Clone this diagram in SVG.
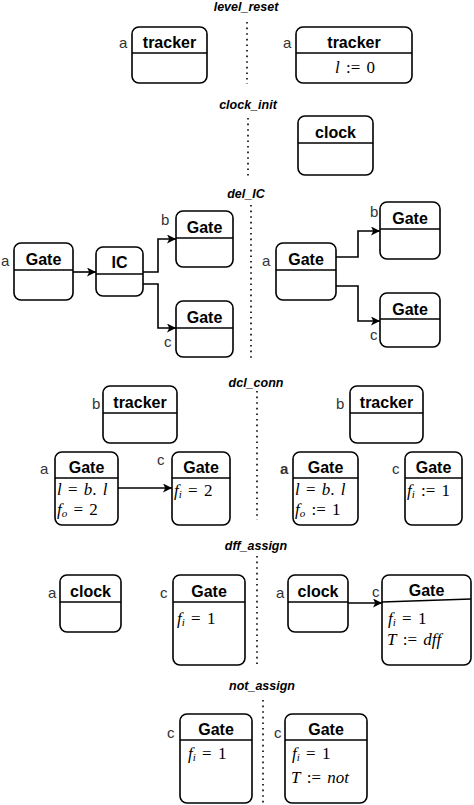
<svg xmlns="http://www.w3.org/2000/svg" width="474" height="805" viewBox="0 0 474 805">
<defs>
<style>
.box{fill:#fff;stroke:#000;stroke-width:1.6}
.div{stroke:#000;stroke-width:1.6;fill:none}
.hd{font-family:"Liberation Sans",Arial,sans-serif;font-weight:bold;font-size:16px;text-anchor:middle;fill:#000}
.lb{font-family:"Liberation Sans",Arial,sans-serif;font-size:15px;fill:#333}
.tt{font-family:"Liberation Sans",Arial,sans-serif;font-weight:bold;font-style:italic;font-size:12.5px;text-anchor:middle;fill:#000}
.m{font-family:"Liberation Serif","Times New Roman",serif;font-size:17px;fill:#000;word-spacing:2px}
.v{font-style:italic}
.s{font-style:italic;font-size:11px}
.dot{stroke:#000;stroke-width:1.6;stroke-dasharray:1.6 4;fill:none}
.con{stroke:#000;stroke-width:1.6;fill:none}
</style>
<marker id="ar" viewBox="0 0 10 10" refX="10" refY="5" markerWidth="9" markerHeight="9" markerUnits="userSpaceOnUse" orient="auto">
<path d="M0,0 L10,5 L0,10 L2.5,5 z" fill="#000"/>
</marker>
</defs>

<g id="titles">
<text class="tt" x="246" y="11">level_reset</text>
<text class="tt" x="248" y="109">clock_init</text>
<text class="tt" x="246" y="198">del_IC</text>
<text class="tt" x="256" y="387">dcl_conn</text>
<text class="tt" x="256" y="550">dff_assign</text>
<text class="tt" x="262" y="690">not_assign</text>
</g>

<g id="separators">
<line class="dot" x1="247" y1="22" x2="247" y2="84"/>
<line class="dot" x1="248" y1="118" x2="248" y2="176"/>
<line class="dot" x1="251" y1="205" x2="251" y2="360"/>
<line class="dot" x1="257" y1="391" x2="257" y2="520"/>
<line class="dot" x1="257" y1="556" x2="257" y2="666"/>
<line class="dot" x1="263" y1="700" x2="263" y2="805"/>
</g>

<g id="connectors">
<line class="con" x1="73" y1="272" x2="96" y2="272" marker-end="url(#ar)"/>
<path class="con" d="M143,272 H158 V239 H176" marker-end="url(#ar)"/>
<path class="con" d="M143,284 H158 V328 H176" marker-end="url(#ar)"/>
<path class="con" d="M336,257 H358 V231 H380" marker-end="url(#ar)"/>
<path class="con" d="M336,286 H358 V321 H380" marker-end="url(#ar)"/>
<line class="con" x1="118" y1="488" x2="172" y2="488" marker-end="url(#ar)"/>
<line class="con" x1="348" y1="603" x2="382" y2="603" marker-end="url(#ar)"/>
</g>

<g id="lr-left-tracker">
<rect class="box" x="132" y="27" width="75" height="56" rx="7"/>
<line class="div" x1="132" y1="53" x2="207" y2="53"/>
<text class="hd" x="169.5" y="48">tracker</text>
<text class="lb" x="119" y="48">a</text>
</g>
<g id="lr-right-tracker">
<rect class="box" x="296" y="27" width="116" height="56" rx="7"/>
<line class="div" x1="296" y1="53" x2="412" y2="53"/>
<text class="hd" x="354" y="48">tracker</text>
<text class="m" x="355" y="73" text-anchor="middle" font-size="19"><tspan class="v">l</tspan> := 0</text>
<text class="lb" x="283" y="48">a</text>
</g>

<g id="ci-clock">
<rect class="box" x="298" y="116" width="75" height="59" rx="7"/>
<line class="div" x1="298" y1="143" x2="373" y2="143"/>
<text class="hd" x="335.5" y="138">clock</text>
</g>

<g id="di-left-gate-a">
<rect class="box" x="14" y="243" width="59" height="57" rx="7"/>
<line class="div" x1="14" y1="270" x2="73" y2="270"/>
<text class="hd" x="43.5" y="265">Gate</text>
<text class="lb" x="1" y="266">a</text>
</g>
<g id="di-left-ic">
<rect class="box" x="96" y="247" width="47" height="49" rx="7"/>
<line class="div" x1="96" y1="274" x2="143" y2="274"/>
<text class="hd" x="119.5" y="268">IC</text>
</g>
<g id="di-left-gate-b">
<rect class="box" x="176" y="211" width="57" height="56" rx="7"/>
<line class="div" x1="176" y1="238" x2="233" y2="238"/>
<text class="hd" x="204.5" y="233">Gate</text>
<text class="lb" x="161" y="225">b</text>
</g>
<g id="di-left-gate-c">
<rect class="box" x="176" y="301" width="57" height="56" rx="7"/>
<line class="div" x1="176" y1="328" x2="233" y2="328"/>
<text class="hd" x="204.5" y="323">Gate</text>
<text class="lb" x="164" y="347">c</text>
</g>

<g id="di-right-gate-a">
<rect class="box" x="276" y="243" width="60" height="57" rx="7"/>
<line class="div" x1="276" y1="270" x2="336" y2="270"/>
<text class="hd" x="306" y="265">Gate</text>
<text class="lb" x="262" y="266">a</text>
</g>
<g id="di-right-gate-b">
<rect class="box" x="380" y="202" width="60" height="57" rx="7"/>
<line class="div" x1="380" y1="229" x2="440" y2="229"/>
<text class="hd" x="410" y="224">Gate</text>
<text class="lb" x="370" y="217">b</text>
</g>
<g id="di-right-gate-c">
<rect class="box" x="380" y="293" width="60" height="54" rx="7"/>
<line class="div" x1="380" y1="319" x2="440" y2="319"/>
<text class="hd" x="410" y="315">Gate</text>
<text class="lb" x="370" y="340">c</text>
</g>

<g id="dc-left-tracker-b">
<rect class="box" x="103" y="386" width="74" height="57" rx="7"/>
<line class="div" x1="103" y1="413" x2="177" y2="413"/>
<text class="hd" x="140" y="408">tracker</text>
<text class="lb" x="92" y="409">b</text>
</g>
<g id="dc-left-gate-a">
<rect class="box" x="55" y="452" width="63" height="73" rx="7"/>
<line class="div" x1="55" y1="478" x2="118" y2="478"/>
<text class="hd" x="86.5" y="473">Gate</text>
<text class="m" x="57" y="495"><tspan class="v">l</tspan> = <tspan class="v">b</tspan>. <tspan class="v">l</tspan></text>
<text class="m" x="57" y="515"><tspan class="v">f</tspan><tspan class="s" dy="2">o</tspan><tspan dy="-2"> = 2</tspan></text>
<text class="lb" x="40" y="474">a</text>
</g>
<g id="dc-left-gate-c">
<rect class="box" x="172" y="452" width="58" height="73" rx="7"/>
<line class="div" x1="172" y1="478" x2="230" y2="478"/>
<text class="hd" x="201" y="473">Gate</text>
<text class="m" x="174" y="496"><tspan class="v">f</tspan><tspan class="s" dy="2">i</tspan><tspan dy="-2"> = 2</tspan></text>
<text class="lb" x="157" y="465">c</text>
</g>

<g id="dc-right-tracker-b">
<rect class="box" x="350" y="386" width="73" height="57" rx="7"/>
<line class="div" x1="350" y1="413" x2="423" y2="413"/>
<text class="hd" x="386.5" y="408">tracker</text>
<text class="lb" x="336" y="409">b</text>
</g>
<g id="dc-right-gate-a">
<rect class="box" x="293" y="452" width="65" height="73" rx="7"/>
<line class="div" x1="293" y1="478" x2="358" y2="478"/>
<text class="hd" x="325.5" y="473">Gate</text>
<text class="m" x="295" y="495"><tspan class="v">l</tspan> = <tspan class="v">b</tspan>. <tspan class="v">l</tspan></text>
<text class="m" x="295" y="515"><tspan class="v">f</tspan><tspan class="s" dy="2">o</tspan><tspan dy="-2"> := 1</tspan></text>
<text class="lb" x="280" y="474" font-weight="bold">a</text>
</g>
<g id="dc-right-gate-c">
<rect class="box" x="405" y="452" width="57" height="73" rx="7"/>
<line class="div" x1="405" y1="478" x2="462" y2="478"/>
<text class="hd" x="433.5" y="473">Gate</text>
<text class="m" x="407" y="496"><tspan class="v">f</tspan><tspan class="s" dy="2">i</tspan><tspan dy="-2"> := 1</tspan></text>
<text class="lb" x="392" y="474">c</text>
</g>

<g id="da-left-clock-a">
<rect class="box" x="60" y="575" width="61" height="57" rx="7"/>
<line class="div" x1="60" y1="602" x2="121" y2="602"/>
<text class="hd" x="90.5" y="597">clock</text>
<text class="lb" x="48" y="598">a</text>
</g>
<g id="da-left-gate-c">
<rect class="box" x="173" y="575" width="72" height="90" rx="7"/>
<line class="div" x1="173" y1="602" x2="245" y2="602"/>
<text class="hd" x="209" y="597">Gate</text>
<text class="m" x="177" y="624" font-size="18"><tspan class="v">f</tspan><tspan class="s" dy="2">i</tspan><tspan dy="-2"> = 1</tspan></text>
<text class="lb" x="160" y="598">c</text>
</g>

<g id="da-right-clock-a">
<rect class="box" x="288" y="575" width="60" height="57" rx="7"/>
<line class="div" x1="288" y1="602" x2="348" y2="602"/>
<text class="hd" x="318" y="597">clock</text>
<text class="lb" x="276" y="598">a</text>
</g>
<g id="da-right-gate-c">
<rect class="box" x="382" y="575" width="89" height="90" rx="7"/>
<line class="div" x1="382" y1="602" x2="471" y2="599"/>
<text class="hd" x="426.5" y="596">Gate</text>
<text class="m" x="388" y="624" font-size="18"><tspan class="v">f</tspan><tspan class="s" dy="2">i</tspan><tspan dy="-2"> = 1</tspan></text>
<text class="m" x="387" y="645" font-size="18"><tspan class="v">T</tspan> := <tspan class="v">dff</tspan></text>
<text class="lb" x="372" y="597">c</text>
</g>

<g id="na-left-gate-c">
<rect class="box" x="180" y="714" width="72" height="89" rx="7"/>
<line class="div" x1="180" y1="740" x2="252" y2="740"/>
<text class="hd" x="216" y="735">Gate</text>
<text class="m" x="188" y="759" font-size="18"><tspan class="v">f</tspan><tspan class="s" dy="2">i</tspan><tspan dy="-2"> = 1</tspan></text>
<text class="lb" x="167" y="738">c</text>
</g>
<g id="na-right-gate-c">
<rect class="box" x="285" y="714" width="82" height="89" rx="7"/>
<line class="div" x1="285" y1="740" x2="367" y2="740"/>
<text class="hd" x="326" y="735">Gate</text>
<text class="m" x="292" y="759" font-size="18"><tspan class="v">f</tspan><tspan class="s" dy="2">i</tspan><tspan dy="-2"> = 1</tspan></text>
<text class="m" x="291" y="783" font-size="18"><tspan class="v">T</tspan> := <tspan class="v">not</tspan></text>
<text class="lb" x="274" y="738">c</text>
</g>
</svg>
